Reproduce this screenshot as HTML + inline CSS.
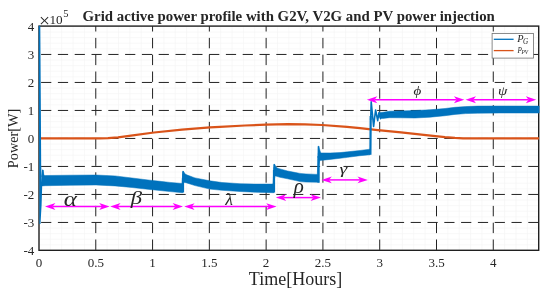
<!DOCTYPE html><html><head><meta charset="utf-8"><title>Grid active power profile</title>
<style>html,body{margin:0;padding:0;background:#fff}svg{display:block}text{font-family:"Liberation Serif","DejaVu Serif",serif;fill:#262626}</style></head><body>
<svg width="550" height="294" viewBox="0 0 550 294">
<rect width="550" height="294" fill="#fff"/>
<path d="M50.36 26.1V250.3M61.71 26.1V250.3M73.07 26.1V250.3M84.43 26.1V250.3M107.14 26.1V250.3M118.50 26.1V250.3M129.86 26.1V250.3M141.21 26.1V250.3M163.93 26.1V250.3M175.28 26.1V250.3M186.64 26.1V250.3M198.00 26.1V250.3M220.71 26.1V250.3M232.07 26.1V250.3M243.43 26.1V250.3M254.78 26.1V250.3M277.50 26.1V250.3M288.85 26.1V250.3M300.21 26.1V250.3M311.57 26.1V250.3M334.28 26.1V250.3M345.64 26.1V250.3M357.00 26.1V250.3M368.35 26.1V250.3M391.07 26.1V250.3M402.42 26.1V250.3M413.78 26.1V250.3M425.14 26.1V250.3M447.85 26.1V250.3M459.21 26.1V250.3M470.57 26.1V250.3M481.92 26.1V250.3M504.64 26.1V250.3M515.99 26.1V250.3M527.35 26.1V250.3M39.0 244.85H538.7M39.0 239.25H538.7M39.0 233.65H538.7M39.0 228.05H538.7M39.0 216.85H538.7M39.0 211.25H538.7M39.0 205.65H538.7M39.0 200.05H538.7M39.0 188.85H538.7M39.0 183.25H538.7M39.0 177.65H538.7M39.0 172.05H538.7M39.0 160.85H538.7M39.0 155.25H538.7M39.0 149.65H538.7M39.0 144.05H538.7M39.0 132.85H538.7M39.0 127.25H538.7M39.0 121.65H538.7M39.0 116.05H538.7M39.0 104.85H538.7M39.0 99.25H538.7M39.0 93.65H538.7M39.0 88.05H538.7M39.0 76.85H538.7M39.0 71.25H538.7M39.0 65.65H538.7M39.0 60.05H538.7M39.0 48.85H538.7M39.0 43.25H538.7M39.0 37.65H538.7M39.0 32.05H538.7" stroke="#f3f3f3" stroke-width="0.6" fill="none"/>
<path d="M39.0 222.45H538.7M39.0 194.45H538.7M39.0 166.45H538.7M39.0 138.45H538.7M39.0 110.45H538.7M39.0 82.45H538.7M39.0 54.45H538.7" stroke="#222" stroke-width="1" stroke-dasharray="10.2 6.6" stroke-dashoffset="-2.1" fill="none"/>
<path d="M95.78 250.3V26.1M152.57 250.3V26.1M209.35 250.3V26.1M266.14 250.3V26.1M322.92 250.3V26.1M379.71 250.3V26.1M436.50 250.3V26.1M493.28 250.3V26.1" stroke="#222" stroke-width="1" stroke-dasharray="10.4 6.4" stroke-dashoffset="-0.4" fill="none"/>
<rect x="39.0" y="26.1" width="499.70000000000005" height="224.20000000000002" fill="none" stroke="#202020" stroke-width="1.4"/>
<polyline points="39.5,138.4 100,138.4 108,138.2 118,137.3 131,135.6 154,132.5 182,129.7 210,127.4 220,126.8 245,125.5 266,124.6 288,124.2 305,124.4 322,125.0 347,126.8 360,128.2 375.4,129.8 401,132.4 426,135.1 445,137.1 455,137.9 463,138.3 475,138.4 539,138.4" fill="none" stroke="#D95319" stroke-width="2.2" stroke-linejoin="round"/>
<path d="M42 175.8 L45.3 175.5 L70 175.2 L96 175.0 L115 175.9 L132 178.0 L150 180.2 L160 181.3 L170 182.4 L182.6 183.5 L182.6 192.7 L170 191.6 L160 190.5 L150 189.5 L132 187.5 L115 185.9 L96 185.0 L70 185.3 L45.3 185.7 L42 185.9ZM182.6 174.5 L184.2 174.5 L186 174.6 L195 177.9 L209.8 180.8 L222 182.5 L240 183.7 L255 184.1 L273.8 184.1 L273.8 192.7 L255 192.2 L240 191.5 L222 190.3 L209.8 189.1 L195 185.6 L186 182.7 L184.2 182.4 L182.6 182.3ZM273.8 167.5 L275.7 167.4 L280 168.9 L287.6 171.0 L295.7 172.6 L300 173.4 L306 173.9 L318.3 174.4 L318.3 182.3 L306 182.1 L300 181.6 L295.7 180.6 L287.6 178.8 L280 177.3 L275.7 176.0 L273.8 176.0ZM318.3 153.0 L322.7 152.9 L330 153.0 L340 152.6 L347.7 151.8 L360 150.5 L370 149.2 L370 154.8 L360 155.7 L347.7 157.3 L340 158.3 L330 159.4 L322.7 160.2 L318.3 160.6ZM379 112.6 L380.5 112.4 L382.9 112.3 L389.5 111.2 L400 110.9 L415 110.5 L430 109.8 L445 108.5 L455 107.3 L465.7 106.6 L477.6 106.1 L500 106.0 L539.2 106.1 L539.2 113.0 L500 113.0 L477.6 113.2 L465.7 113.6 L455 114.4 L445 115.7 L430 117.2 L415 118.0 L400 117.8 L389.5 117.7 L382.9 118.4 L380.5 118.3 L379 116.5ZM41.6 176.5L42.7 169.6L44.2 176ZM181.9 184.5L183.1 170.9L186.2 175.2ZM272.9 185L274.3 163.9L277 168.2ZM317.3 175L318.5 145.9L320.9 153.5Z" fill="#0072BD" stroke="#0072BD" stroke-width="0.5" stroke-linejoin="round"/>
<path d="M183.0 192.5 V178M274.0 192.6 V170M318.6 182.8 V156M370.4 154.8 L370.7 116" fill="none" stroke="#0072BD" stroke-width="2.2" stroke-linejoin="round"/>
<path d="M42.8 177 V169.9M183.0 180 V171.2M274.2 172 V164.2M318.5 158 V146.2M370.7 120 L371.2 101.8 L372.4 114 L373.6 126.5 L374.6 118 L375.6 110 L376.6 115 L377.7 120.6 L378.4 116 L379 112.6 L379.8 115.5 L380.5 118.6 L381.2 115" fill="none" stroke="#0072BD" stroke-width="1.6" stroke-linejoin="round"/>
<path d="M38.7 25.700000000000003 L40.3 25.700000000000003 L40.8 100 L41.2 165 L41.6 176 L42.2 186 L41.6 205 L40.5 224 L39.4 224 L39.3 186 L39.2 165 L38.9 100 Z" fill="#0072BD"/>
<path d="M52.6 206.5H101.99999999999999" stroke="#FF00FF" stroke-width="1.5" fill="none"/><path d="M45 206.5L55.4 203.1L52.6 206.5L55.4 209.9Z M109.6 206.5L99.19999999999999 203.1L101.99999999999999 206.5L99.19999999999999 209.9Z" fill="#FF00FF"/>
<path d="M117.80000000000001 206.5H175.4" stroke="#FF00FF" stroke-width="1.5" fill="none"/><path d="M110.2 206.5L120.60000000000001 203.1L117.80000000000001 206.5L120.60000000000001 209.9Z M183 206.5L172.6 203.1L175.4 206.5L172.6 209.9Z" fill="#FF00FF"/>
<path d="M191.79999999999998 206.6H269.00000000000006" stroke="#FF00FF" stroke-width="1.5" fill="none"/><path d="M184.2 206.6L194.6 203.2L191.79999999999998 206.6L194.6 210.0Z M276.6 206.6L266.20000000000005 203.2L269.00000000000006 206.6L266.20000000000005 210.0Z" fill="#FF00FF"/>
<path d="M283.4 197.6H313.40000000000003" stroke="#FF00FF" stroke-width="1.5" fill="none"/><path d="M275.8 197.6L286.2 194.2L283.4 197.6L286.2 201.0Z M321 197.6L310.6 194.2L313.40000000000003 197.6L310.6 201.0Z" fill="#FF00FF"/>
<path d="M328.99999999999994 179.9H360.3" stroke="#FF00FF" stroke-width="1.5" fill="none"/><path d="M321.4 179.9L331.79999999999995 176.5L328.99999999999994 179.9L331.79999999999995 183.3Z M367.9 179.9L357.5 176.5L360.3 179.9L357.5 183.3Z" fill="#FF00FF"/>
<path d="M374.49999999999994 99.75H456.70000000000005" stroke="#FF00FF" stroke-width="1.5" fill="none"/><path d="M366.9 99.75L377.29999999999995 96.35L374.49999999999994 99.75L377.29999999999995 103.15Z M464.3 99.75L453.90000000000003 96.35L456.70000000000005 99.75L453.90000000000003 103.15Z" fill="#FF00FF"/>
<path d="M473.2 99.75H528.6" stroke="#FF00FF" stroke-width="1.5" fill="none"/><path d="M465.6 99.75L476.0 96.35L473.2 99.75L476.0 103.15Z M536.2 99.75L525.8000000000001 96.35L528.6 99.75L525.8000000000001 103.15Z" fill="#FF00FF"/>
<text transform="translate(70.4 206.0) scale(1.22 1)" font-size="20.5" font-style="italic" text-anchor="middle" fill="#1a1a1a">α</text>
<text transform="translate(136.4 204.4) scale(1.2 1)" font-size="19" font-style="italic" text-anchor="middle" fill="#1a1a1a">β</text>
<text transform="translate(229 204.6) scale(1.05 1)" font-size="17" font-style="italic" text-anchor="middle" fill="#1a1a1a">λ</text>
<text transform="translate(298.7 193.0) scale(1.05 1)" font-size="20" font-style="italic" text-anchor="middle" fill="#1a1a1a">ρ</text>
<text transform="translate(343.4 174.2) scale(1.35 1)" font-size="14.5" font-style="italic" text-anchor="middle" fill="#1a1a1a">γ</text>
<text transform="translate(417.3 95.0) scale(1.25 1)" font-size="12" font-style="italic" text-anchor="middle" fill="#1a1a1a">ϕ</text>
<text transform="translate(502.6 94.6) scale(1.25 1)" font-size="12" font-style="italic" text-anchor="middle" fill="#1a1a1a">ψ</text>
<rect x="492.1" y="33.4" width="41.3" height="24.7" fill="#fff" stroke="#707070" stroke-width="0.8"/>
<path d="M493.8 39.3H513.6" stroke="#0072BD" stroke-width="1.3"/>
<path d="M493.8 50.6H513.6" stroke="#D95319" stroke-width="1.3"/>
<text x="517.2" y="42.2" font-size="10.3" font-style="italic" fill="#222">P<tspan font-size="7.2" dx="-0.6" dy="1.5">G</tspan></text>
<text x="517.4" y="52.6" font-size="7.2" font-style="italic" fill="#555">P<tspan font-size="5.4" dx="-0.4" dy="1">PV</tspan></text>
<text x="39.0" y="266.9" font-size="13" text-anchor="middle">0</text>
<text x="95.8" y="266.9" font-size="13" text-anchor="middle">0.5</text>
<text x="152.6" y="266.9" font-size="13" text-anchor="middle">1</text>
<text x="209.4" y="266.9" font-size="13" text-anchor="middle">1.5</text>
<text x="266.1" y="266.9" font-size="13" text-anchor="middle">2</text>
<text x="322.9" y="266.9" font-size="13" text-anchor="middle">2.5</text>
<text x="379.7" y="266.9" font-size="13" text-anchor="middle">3</text>
<text x="436.5" y="266.9" font-size="13" text-anchor="middle">3.5</text>
<text x="493.3" y="266.9" font-size="13" text-anchor="middle">4</text>
<text x="34.3" y="255.1" font-size="13" text-anchor="end">-4</text>
<text x="34.3" y="227.1" font-size="13" text-anchor="end">-3</text>
<text x="34.3" y="199.1" font-size="13" text-anchor="end">-2</text>
<text x="34.3" y="171.1" font-size="13" text-anchor="end">-1</text>
<text x="34.3" y="143.1" font-size="13" text-anchor="end">0</text>
<text x="34.3" y="115.1" font-size="13" text-anchor="end">1</text>
<text x="34.3" y="87.1" font-size="13" text-anchor="end">2</text>
<text x="34.3" y="59.1" font-size="13" text-anchor="end">3</text>
<text x="34.3" y="31.1" font-size="13" text-anchor="end">4</text>
<text x="38.9" y="26.6" font-size="19.5">×</text><text x="49.4" y="23.7" font-size="13.2">10<tspan font-size="10.5" dx="0.6" dy="-6.5">5</tspan></text>
<text x="295.5" y="285.0" font-size="18" text-anchor="middle">Time[Hours]</text>
<text transform="translate(18.2 138.4) rotate(-90)" font-size="14.3" text-anchor="middle">Power[W]</text>
<text x="288.7" y="21.4" font-size="14.84" font-weight="bold" text-anchor="middle" fill="#000">Grid active power profile with G2V, V2G and PV power injection</text>
</svg></body></html>
